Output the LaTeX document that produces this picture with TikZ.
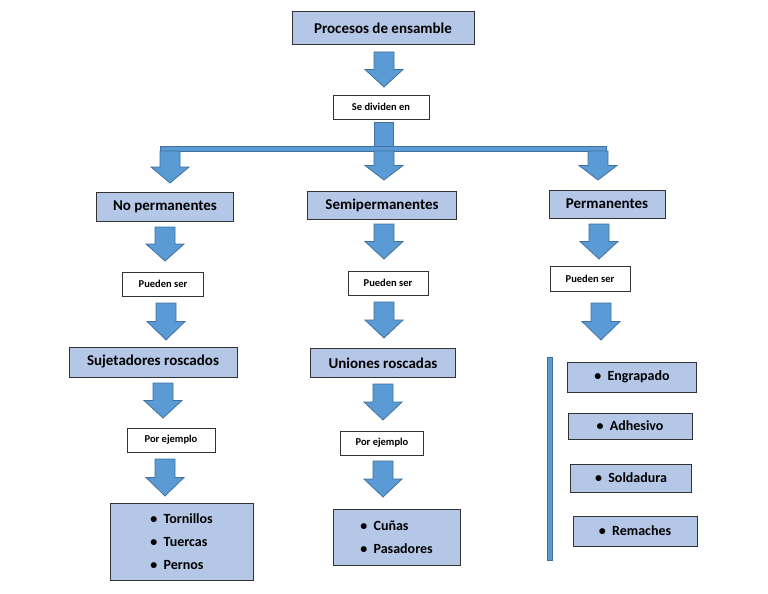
\documentclass[tikz,border=0pt]{standalone}
\usepackage{fontspec}
\setmainfont{Carlito}
\definecolor{boxfill}{HTML}{B4C7E7}
\definecolor{arrfill}{HTML}{5B9BD5}
\definecolor{arrdraw}{HTML}{41719C}
\newcommand\blockarrow[3]{%
  \fill[arrfill,draw=arrdraw,line width=0.8pt] (#1-10,#2) -- (#1+10,#2) -- (#1+10,{#2+0.5*(#3-#2)}) -- (#1+19,{#2+0.5*(#3-#2)}) -- (#1,#3) -- (#1-19,{#2+0.5*(#3-#2)}) -- (#1-10,{#2+0.5*(#3-#2)}) -- cycle;}
\begin{document}
\begin{tikzpicture}[x=1pt,y=-1pt,
  box/.style={draw=black!80,fill=boxfill,line width=0.9pt,inner sep=0pt,font=\fontsize{15}{18}\selectfont\bfseries},
  lab/.style={draw=black!80,fill=white,line width=0.7pt,inner sep=0pt,font=\fontsize{10.5}{12}\selectfont\bfseries}]
\useasboundingbox (0,0) rectangle (768,594);
\fill[white] (0,0) rectangle (768,594);
\node[box,minimum width=182,minimum height=33] (top) at (383,28) {Procesos de ensamble};
\blockarrow{384}{52}{87}
\node[lab,minimum width=96,minimum height=24] (div) at (381,107) {Se dividen en};
\fill[arrfill,draw=arrdraw,line width=0.8pt] (374,122) rectangle (393,147);
\fill[arrfill,draw=arrdraw,line width=0.8pt] (160,146) rectangle (606,151);
\blockarrow{170}{151}{183}
\blockarrow{384}{151}{180}
\blockarrow{598}{151}{180}
\node[box,minimum width=137,minimum height=29] (np) at (165,207) {No permanentes};
\node[box,minimum width=149,minimum height=28] (sp) at (382,205) {Semipermanentes};
\node[box,minimum width=116,minimum height=28] (p) at (607,204) {Permanentes};
\blockarrow{165}{227}{261}
\blockarrow{384}{224}{259}
\blockarrow{599}{224}{259}
\node[lab,minimum width=81,minimum height=24] (ps1) at (163,284) {Pueden ser};
\node[lab,minimum width=80,minimum height=24] (ps2) at (388,283) {Pueden ser};
\node[lab,minimum width=80,minimum height=25] (ps3) at (590,279) {Pueden ser};
\blockarrow{166}{303}{340}
\blockarrow{384}{302}{338}
\blockarrow{601}{303}{340}
\node[box,minimum width=168,minimum height=30] (sr) at (153,362) {Sujetadores roscados};
\node[box,minimum width=145,minimum height=29] (ur) at (383,363) {Uniones roscadas};
\fill[arrfill,draw=arrdraw,line width=0.6pt] (547,357) rectangle (552,560);
\node[box,minimum width=129,minimum height=30,font=\fontsize{14}{16}\selectfont\bfseries] (e1) at (632,377) {\textbullet\ \ Engrapado};
\node[box,minimum width=124,minimum height=26,font=\fontsize{14}{16}\selectfont\bfseries] (e2) at (630,426) {\textbullet\ \ Adhesivo};
\node[box,minimum width=121,minimum height=28,font=\fontsize{14}{16}\selectfont\bfseries] (e3) at (631,478) {\textbullet\ \ Soldadura};
\node[box,minimum width=124,minimum height=30,font=\fontsize{14}{16}\selectfont\bfseries] (e4) at (635,531) {\textbullet\ \ Remaches};
\blockarrow{163}{383}{418}
\blockarrow{383}{384}{420}
\node[lab,minimum width=88,minimum height=24] (pe1) at (171,440) {Por ejemplo};
\node[lab,minimum width=83,minimum height=24] (pe2) at (382,443) {Por ejemplo};
\blockarrow{165}{459}{496}
\blockarrow{383}{461}{497}
\node[box,minimum width=143,minimum height=77,font=\fontsize{14}{23}\selectfont\bfseries,align=left] (l1) at (181.5,541.5) {\textbullet\ \ Tornillos\\\textbullet\ \ Tuercas\\\textbullet\ \ Pernos};
\node[box,minimum width=127,minimum height=56,font=\fontsize{14}{23}\selectfont\bfseries,align=left] (l2) at (396.5,537) {\textbullet\ \ Cuñas\\\textbullet\ \ Pasadores};
\end{tikzpicture}
\end{document}
